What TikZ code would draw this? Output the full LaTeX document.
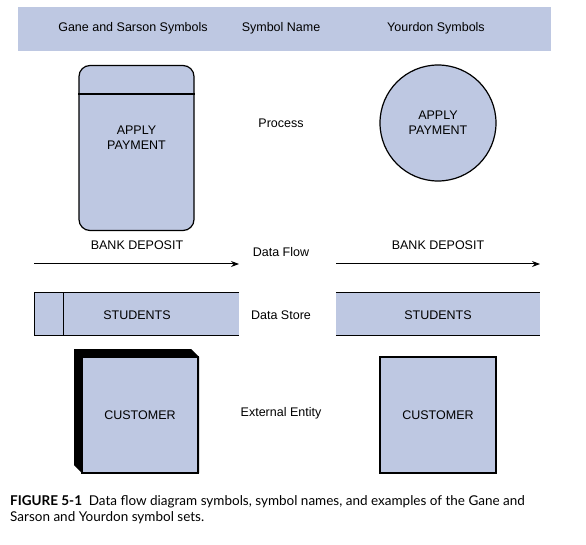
\documentclass[tikz,border=0pt]{standalone}
\usepackage{fontspec}
\setmainfont{Liberation Sans}
\newfontfamily\capfont{Lato}
\usetikzlibrary{positioning,arrows.meta}
\definecolor{dfdblue}{RGB}{190,200,226}
\begin{document}
\begin{tikzpicture}
[x=1pt,y=-1pt,font=\fontsize{12.5}{14.5}\selectfont,
  shapedecorate/.style={draw,fill=dfdblue,line width=1.2pt,inner sep=0pt},%
  linedecorate/.style={line width=1.3pt},%
  arrowdecorate/.style={->,>={Stealth[length=8pt,width=6pt]},line width=1pt}]
\useasboundingbox (0,0) rectangle (586,545);
% header band
\node (band) at (284.5,29) [fill=dfdblue,minimum width=533pt,minimum height=44pt] {};
\node (hgs) at (133,28) {Gane and Sarson Symbols};
\node (hname) at (281,28) {Symbol Name};
\node (hyd) at (436,28) {Yourdon Symbols};
% process
\node (gsproc) at (136.5,148) [shapedecorate,rounded corners=11pt,minimum width=115pt,minimum height=165pt] {};
\draw[linedecorate] ([yshift=-29pt]gsproc.north west) -- ([yshift=-29pt]gsproc.north east);
\node (gsproctext) at (136.5,138) [align=center,font=\fontsize{12.5}{15}\selectfont] {APPLY\\PAYMENT};
\node (nproc) at (281,123) {Process};
\node (ydproc) at (438,123) [shapedecorate,circle,minimum size=116pt,align=center,font=\fontsize{12.5}{15}\selectfont] {APPLY\\PAYMENT};
% data flow
\coordinate (gsflowa) at (34,264);
\coordinate (gsflowb) at (239,264);
\coordinate (ydflowa) at (336,264);
\coordinate (ydflowb) at (540,264);
\draw[arrowdecorate] (gsflowa) -- (gsflowb);
\draw[arrowdecorate] (ydflowa) -- (ydflowb);
\node (gsflow) at (137,245) {BANK DEPOSIT};
\node (nflow) at (281,252) {Data Flow};
\node (ydflow) at (438,245) {BANK DEPOSIT};
% data store
\node (gsstore) at (137,314) [fill=dfdblue,minimum width=204pt,minimum height=42pt] {};
\node (gsstoretext) at (137,315) {STUDENTS};
\draw[linedecorate] (gsstore.north east) -- (gsstore.north west) -- (gsstore.south west) -- (gsstore.south east);
\draw[linedecorate] ([xshift=29pt]gsstore.north west) -- ([xshift=29pt]gsstore.south west);
\node (nstore) at (281,315) {Data Store};
\node (ydstore) at (438,314) [fill=dfdblue,minimum width=204pt,minimum height=42pt] {};
\node (ydstoretext) at (438,315) {STUDENTS};
\draw[linedecorate] (ydstore.north west) -- (ydstore.north east);
\draw[linedecorate] (ydstore.south west) -- (ydstore.south east);
% external entity
\coordinate (gsenta) at (140,415);
\fill[black] ([shift={(-8,-8)}]gsenta) ++(-58,-58) -- ++(117,0) -- ++(8,8) -- ++(0,116) -- ++(-117,0) -- ++(-8,-8) -- cycle;
\node (gsent) at (gsenta) [shapedecorate,minimum width=116pt,minimum height=116pt] {CUSTOMER};
\node (nent) at (281,413) {External Entity};
\node (ydent) at (438,415) [shapedecorate,minimum width=116pt,minimum height=116pt] {CUSTOMER};
% caption
\node (caption) at (10,495) [anchor=north west,align=left,inner sep=0pt,font=\capfont\fontsize{13.5}{16.5}\selectfont]
{\textbf{FIGURE 5-1}\enspace Data flow diagram symbols, symbol names, and examples of the Gane and\\Sarson and Yourdon symbol sets.};
\end{tikzpicture}
\end{document}
